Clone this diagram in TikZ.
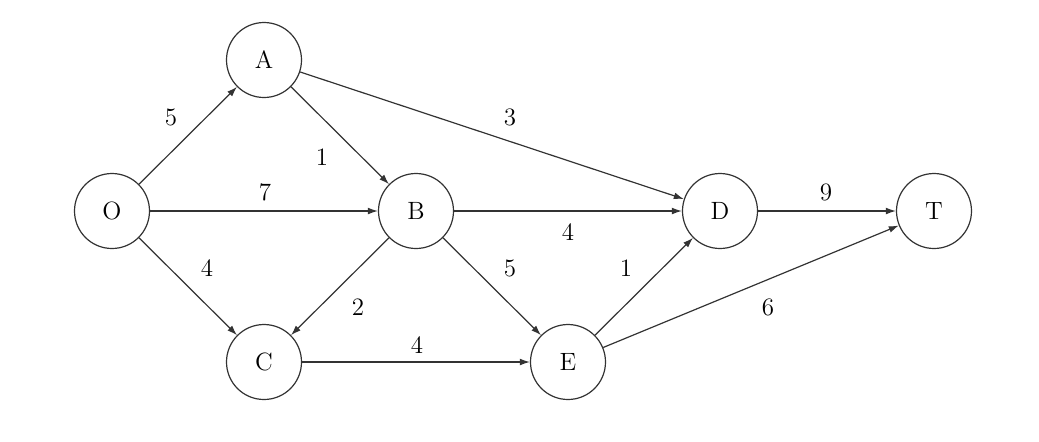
\documentclass[tikz,border=0pt]{standalone}
\usetikzlibrary{arrows.meta}
\begin{document}
\begin{tikzpicture}[x=0.5pt,y=-0.5pt,
  vert/.style={circle,draw=black!80,line width=0.6pt,minimum size=37.5pt,inner sep=0pt,font=\fontsize{12.5}{15}\selectfont},
  wlabel/.style={inner sep=0pt,font=\fontsize{12.5}{15}\selectfont},
  arc/.style={draw=black!80,line width=0.6pt,-{Latex[length=5pt,width=3.4pt]}}]
\useasboundingbox (0,0) rectangle (1039,441);
\node[vert] (O) at (112,211) {O};
\node[vert] (A) at (264,60) {A};
\node[vert] (B) at (416,211) {B};
\node[vert] (C) at (264,362) {C};
\node[vert] (D) at (720,211) {D};
\node[vert] (E) at (568,362) {E};
\node[vert] (T) at (934,211) {T};
\draw[arc] (O) -- (A);
\draw[arc] (O) -- (B);
\draw[arc] (O) -- (C);
\draw[arc] (A) -- (B);
\draw[arc] (A) -- (D);
\draw[arc] (B) -- (D);
\draw[arc] (B) -- (C);
\draw[arc] (B) -- (E);
\draw[arc] (C) -- (E);
\draw[arc] (E) -- (D);
\draw[arc] (E) -- (T);
\draw[arc] (D) -- (T);
\node[wlabel] (wOA) at (171,117) {5};
\node[wlabel] (wAB) at (322,157) {1};
\node[wlabel] (wOB) at (265,192) {7};
\node[wlabel] (wAD) at (510,117) {3};
\node[wlabel] (wOC) at (207,268) {4};
\node[wlabel] (wBD) at (568,232) {4};
\node[wlabel] (wDT) at (826,192) {9};
\node[wlabel] (wBC) at (358,307) {2};
\node[wlabel] (wBE) at (510,268) {5};
\node[wlabel] (wED) at (626,268) {1};
\node[wlabel] (wET) at (768,307) {6};
\node[wlabel] (wCE) at (417,345) {4};
\end{tikzpicture}
\end{document}
